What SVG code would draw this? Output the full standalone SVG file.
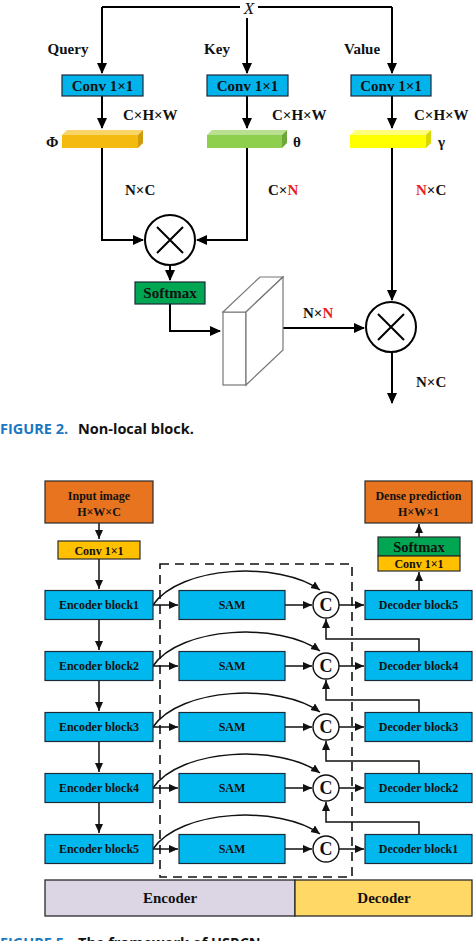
<svg xmlns="http://www.w3.org/2000/svg" width="474" height="941" viewBox="0 0 474 941">
<defs>
<marker id="a" markerUnits="userSpaceOnUse" markerWidth="11" markerHeight="10" refX="10" refY="5" orient="auto"><path d="M0,0 L11,5 L0,10 z" fill="#000"/></marker>
<marker id="b" markerUnits="userSpaceOnUse" markerWidth="9" markerHeight="9" refX="9" refY="4" orient="auto"><path d="M0,0 L9,4 L0,8 z" fill="#111"/></marker>
<style>
.t{font-family:"Liberation Serif","Times New Roman",serif;font-weight:bold;fill:#111}
.cap{font-family:"Open Sans","Noto Sans",sans-serif;font-weight:bold}
.ln{fill:none;stroke:#000;stroke-width:2}
.lb{fill:none;stroke:#111;stroke-width:1.5}
.cy{fill:#00B4EB;stroke:#1c2a3a;stroke-width:1.2}
.cy2{fill:#00B8EE;stroke:#1c2a3a;stroke-width:1.2}
.r{fill:#E8201E}
</style>
</defs>

<!-- ===== Non-local block ===== -->
<g id="connectors-top">
<path class="ln" d="M102,7 H240 M258,7 H392"/>
<path class="ln" d="M102,7 V73" marker-end="url(#a)"/>
<path class="ln" d="M247,18 V73" marker-end="url(#a)"/>
<path class="ln" d="M392,7 V73" marker-end="url(#a)"/>
<path class="ln" d="M102,96 V128" marker-end="url(#a)"/>
<path class="ln" d="M247,96 V128" marker-end="url(#a)"/>
<path class="ln" d="M392,96 V128" marker-end="url(#a)"/>
<path class="ln" d="M102,148 V240 H143" marker-end="url(#a)"/>
<path class="ln" d="M247,148 V240 H197" marker-end="url(#a)"/>
<path class="ln" d="M170,265 V280" marker-end="url(#a)"/>
<path class="ln" d="M170,304 V331 H220" marker-end="url(#a)"/>
<path class="ln" d="M283,328 H364" marker-end="url(#a)"/>
<path class="ln" d="M392,148 V300" marker-end="url(#a)"/>
<path class="ln" d="M392,352 V403" marker-end="url(#a)"/>
</g>

<g id="X"><text x="249" y="14" font-family="Liberation Serif,serif" font-style="italic" font-size="17" text-anchor="middle" fill="#111">X</text></g>
<g id="labels-top">
<text class="t" x="68" y="54" font-size="15" text-anchor="middle">Query</text>
<text class="t" x="217" y="54" font-size="15" text-anchor="middle">Key</text>
<text class="t" x="362" y="54" font-size="15" text-anchor="middle">Value</text>
<text class="t" x="123" y="120" font-size="15">C×H×W</text>
<text class="t" x="272" y="120" font-size="15">C×H×W</text>
<text class="t" x="414" y="120" font-size="15">C×H×W</text>
<text class="t" x="46" y="147" font-size="15">Φ</text>
<text class="t" x="293" y="147" font-size="15">θ</text>
<text class="t" x="438" y="147" font-size="15">γ</text>
<text class="t" x="125" y="195" font-size="15">N×C</text>
<text class="t" x="268" y="195" font-size="15">C×<tspan class="r">N</tspan></text>
<text class="t" x="416" y="195" font-size="15"><tspan class="r">N</tspan>×C</text>
<text class="t" x="303" y="318" font-size="15">N×<tspan class="r">N</tspan></text>
<text class="t" x="416" y="387" font-size="15">N×C</text>
</g>

<g id="conv-q"><rect class="cy" x="62" y="75" width="81" height="21"/><text class="t" x="102.5" y="91" font-size="15" text-anchor="middle">Conv 1×1</text></g>
<g id="conv-k"><rect class="cy" x="207" y="75" width="81" height="21"/><text class="t" x="247.5" y="91" font-size="15" text-anchor="middle">Conv 1×1</text></g>
<g id="conv-v"><rect class="cy" x="351" y="75" width="80" height="21"/><text class="t" x="391" y="91" font-size="15" text-anchor="middle">Conv 1×1</text></g>

<g id="bar-phi">
<rect x="62" y="135" width="76" height="13" fill="#F5BA10"/>
<polygon points="62,135 67,130 143,130 138,135" fill="#F9D568"/>
<polygon points="138,135 143,130 143,143 138,148" fill="#CF9C0C"/>
</g>
<g id="bar-theta">
<rect x="207" y="135" width="75" height="13" fill="#8FCF4E"/>
<polygon points="207,135 212,130 287,130 282,135" fill="#B9E08E"/>
<polygon points="282,135 287,130 287,143 282,148" fill="#6FA83A"/>
</g>
<g id="bar-gamma">
<rect x="350" y="135" width="76" height="13" fill="#FFFF00"/>
<polygon points="350,135 355,130 431,130 426,135" fill="#FFFF7A"/>
<polygon points="426,135 431,130 431,143 426,148" fill="#D8D800"/>
</g>

<g id="mul1"><circle cx="170" cy="240" r="25" fill="#fff" stroke="#000" stroke-width="2"/><path d="M157,227 L183,253 M183,227 L157,253" stroke="#000" stroke-width="2"/></g>
<g id="softmax-top"><rect x="135" y="282" width="70" height="22" fill="#00A651" stroke="#1c2a3a" stroke-width="1.2"/><text class="t" x="170" y="298" font-size="15" text-anchor="middle">Softmax</text></g>
<g id="cube" fill="#fff" stroke="#777" stroke-width="1.2">
<rect x="223" y="312" width="23" height="73"/>
<polygon points="223,312 260,277 283,277 246,312"/>
<polygon points="246,312 283,277 283,350 246,385"/>
</g>
<g id="mul2"><circle cx="391" cy="327" r="25" fill="#fff" stroke="#000" stroke-width="2"/><path d="M378,314 L404,340 M404,314 L378,340" stroke="#000" stroke-width="2"/></g>

<g id="caption2"><text class="cap" x="0" y="434" font-size="14.5" fill="#1A78C2">FIGURE 2.</text><text class="cap" x="78" y="434" font-size="14.5" font-weight="600" fill="#111">Non-local block.</text></g>

<!-- ===== USRCN ===== -->
<g id="dashed"><rect x="160" y="564" width="192" height="313" fill="none" stroke="#111" stroke-width="1.6" stroke-dasharray="9,6"/></g>

<g id="connectors-bottom">
<path class="lb" d="M99,523 V539" marker-end="url(#b)"/>
<path class="lb" d="M99,559 V589" marker-end="url(#b)"/>
<path class="lb" d="M99,619.5 V650" marker-end="url(#b)"/>
<path class="lb" d="M99,680.5 V711" marker-end="url(#b)"/>
<path class="lb" d="M99,741.5 V772" marker-end="url(#b)"/>
<path class="lb" d="M99,802.5 V833" marker-end="url(#b)"/>
<path class="lb" d="M153,605 H178" marker-end="url(#b)"/>
<path class="lb" d="M153,666 H178" marker-end="url(#b)"/>
<path class="lb" d="M153,727 H178" marker-end="url(#b)"/>
<path class="lb" d="M153,788 H178" marker-end="url(#b)"/>
<path class="lb" d="M153,849 H178" marker-end="url(#b)"/>
<path class="lb" d="M285,605 H312" marker-end="url(#b)"/>
<path class="lb" d="M285,666 H312" marker-end="url(#b)"/>
<path class="lb" d="M285,727 H312" marker-end="url(#b)"/>
<path class="lb" d="M285,788 H312" marker-end="url(#b)"/>
<path class="lb" d="M285,849 H312" marker-end="url(#b)"/>
<path class="lb" d="M339,605 H364" marker-end="url(#b)"/>
<path class="lb" d="M339,666 H364" marker-end="url(#b)"/>
<path class="lb" d="M339,727 H364" marker-end="url(#b)"/>
<path class="lb" d="M339,788 H364" marker-end="url(#b)"/>
<path class="lb" d="M339,849 H364" marker-end="url(#b)"/>
<path class="lb" d="M153,605 C180,565 280,561 320,590" marker-end="url(#b)"/>
<path class="lb" d="M153,666 C180,626 280,622 320,651" marker-end="url(#b)"/>
<path class="lb" d="M153,727 C180,687 280,683 320,712" marker-end="url(#b)"/>
<path class="lb" d="M153,788 C180,748 280,744 320,773" marker-end="url(#b)"/>
<path class="lb" d="M153,849 C180,809 280,805 320,834" marker-end="url(#b)"/>
<path class="lb" d="M419,651.5 V639 H326 V619" marker-end="url(#b)"/>
<path class="lb" d="M419,712.5 V700 H326 V680" marker-end="url(#b)"/>
<path class="lb" d="M419,773.5 V761 H326 V741" marker-end="url(#b)"/>
<path class="lb" d="M419,834.5 V822 H326 V802" marker-end="url(#b)"/>
<path class="lb" d="M419,590.5 V572" marker-end="url(#b)"/>
<path class="lb" d="M419,537 V524" marker-end="url(#b)"/>
</g>

<g id="input"><rect x="45" y="481" width="108" height="42" fill="#E9741F" stroke="#2a2a2a" stroke-width="1.2"/><text class="t" x="99" y="500" font-size="12" text-anchor="middle">Input image</text><text class="t" x="99" y="516" font-size="12" text-anchor="middle">H×W×C</text></g>
<g id="conv-in"><rect x="58" y="541" width="82" height="18" fill="#FFC000" stroke="#2a2a2a" stroke-width="1.2"/><text class="t" x="99" y="554.5" font-size="12" text-anchor="middle">Conv 1×1</text></g>

<g id="enc1"><rect class="cy2" x="45" y="590.5" width="108" height="29"/><text class="t" x="99" y="609" font-size="12" text-anchor="middle">Encoder block1</text></g>
<g id="enc2"><rect class="cy2" x="45" y="651.5" width="108" height="29"/><text class="t" x="99" y="670" font-size="12" text-anchor="middle">Encoder block2</text></g>
<g id="enc3"><rect class="cy2" x="45" y="712.5" width="108" height="29"/><text class="t" x="99" y="731" font-size="12" text-anchor="middle">Encoder block3</text></g>
<g id="enc4"><rect class="cy2" x="45" y="773.5" width="108" height="29"/><text class="t" x="99" y="792" font-size="12" text-anchor="middle">Encoder block4</text></g>
<g id="enc5"><rect class="cy2" x="45" y="834.5" width="108" height="29"/><text class="t" x="99" y="853" font-size="12" text-anchor="middle">Encoder block5</text></g>

<g id="sam1"><rect class="cy2" x="179" y="590.5" width="106" height="29"/><text class="t" x="232" y="609" font-size="12" text-anchor="middle">SAM</text></g>
<g id="sam2"><rect class="cy2" x="179" y="651.5" width="106" height="29"/><text class="t" x="232" y="670" font-size="12" text-anchor="middle">SAM</text></g>
<g id="sam3"><rect class="cy2" x="179" y="712.5" width="106" height="29"/><text class="t" x="232" y="731" font-size="12" text-anchor="middle">SAM</text></g>
<g id="sam4"><rect class="cy2" x="179" y="773.5" width="106" height="29"/><text class="t" x="232" y="792" font-size="12" text-anchor="middle">SAM</text></g>
<g id="sam5"><rect class="cy2" x="179" y="834.5" width="106" height="29"/><text class="t" x="232" y="853" font-size="12" text-anchor="middle">SAM</text></g>

<g id="c1"><circle cx="326" cy="605" r="13" fill="#fff" stroke="#111" stroke-width="1.4"/><text class="t" x="326" y="611" font-size="18" text-anchor="middle">C</text></g>
<g id="c2"><circle cx="326" cy="666" r="13" fill="#fff" stroke="#111" stroke-width="1.4"/><text class="t" x="326" y="672" font-size="18" text-anchor="middle">C</text></g>
<g id="c3"><circle cx="326" cy="727" r="13" fill="#fff" stroke="#111" stroke-width="1.4"/><text class="t" x="326" y="733" font-size="18" text-anchor="middle">C</text></g>
<g id="c4"><circle cx="326" cy="788" r="13" fill="#fff" stroke="#111" stroke-width="1.4"/><text class="t" x="326" y="794" font-size="18" text-anchor="middle">C</text></g>
<g id="c5"><circle cx="326" cy="849" r="13" fill="#fff" stroke="#111" stroke-width="1.4"/><text class="t" x="326" y="855" font-size="18" text-anchor="middle">C</text></g>

<g id="dec5"><rect class="cy2" x="365" y="590.5" width="107" height="29"/><text class="t" x="418.5" y="609" font-size="12" text-anchor="middle">Decoder block5</text></g>
<g id="dec4"><rect class="cy2" x="365" y="651.5" width="107" height="29"/><text class="t" x="418.5" y="670" font-size="12" text-anchor="middle">Decoder block4</text></g>
<g id="dec3"><rect class="cy2" x="365" y="712.5" width="107" height="29"/><text class="t" x="418.5" y="731" font-size="12" text-anchor="middle">Decoder block3</text></g>
<g id="dec2"><rect class="cy2" x="365" y="773.5" width="107" height="29"/><text class="t" x="418.5" y="792" font-size="12" text-anchor="middle">Decoder block2</text></g>
<g id="dec1"><rect class="cy2" x="365" y="834.5" width="107" height="29"/><text class="t" x="418.5" y="853" font-size="12" text-anchor="middle">Decoder block1</text></g>

<g id="softmax-out"><rect x="378" y="537" width="82" height="19" fill="#00A651" stroke="#2a2a2a" stroke-width="1.2"/><text class="t" x="419" y="552" font-size="14.5" text-anchor="middle">Softmax</text></g>
<g id="conv-out"><rect x="378" y="556" width="82" height="15" fill="#FFC000" stroke="#2a2a2a" stroke-width="1.2"/><text class="t" x="419" y="568" font-size="12" text-anchor="middle">Conv 1×1</text></g>
<g id="dense"><rect x="365" y="481" width="107" height="42" fill="#E9741F" stroke="#2a2a2a" stroke-width="1.2"/><text class="t" x="418.5" y="500" font-size="12" text-anchor="middle">Dense prediction</text><text class="t" x="418.5" y="516" font-size="12" text-anchor="middle">H×W×1</text></g>

<g id="enc-bar"><rect x="45" y="880" width="250" height="36" fill="#DCD5E3" stroke="#2a2a2a" stroke-width="1.3"/><text class="t" x="170" y="903" font-size="15" text-anchor="middle">Encoder</text></g>
<g id="dec-bar"><rect x="295" y="880" width="177" height="36" fill="#FFD865" stroke="#2a2a2a" stroke-width="1.3"/><text class="t" x="384" y="903" font-size="15" text-anchor="middle">Decoder</text></g>

<g id="caption5"><text class="cap" x="0" y="948" font-size="14.5" fill="#1A78C2">FIGURE 5.</text><text class="cap" x="78" y="948" font-size="14.5" font-weight="600" fill="#111">The framework of USRCN</text></g>
</svg>
